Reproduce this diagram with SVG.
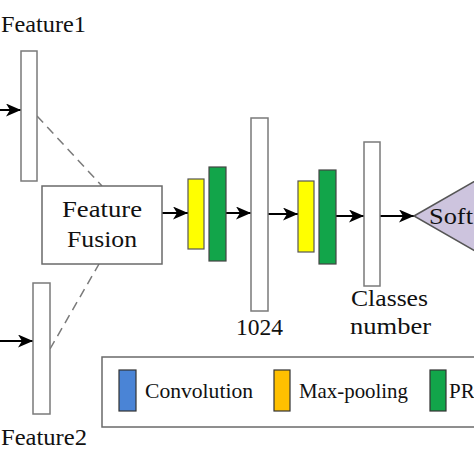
<svg xmlns="http://www.w3.org/2000/svg" width="474" height="474" viewBox="0 0 474 474">
<defs>
<marker id="ah" viewBox="0 0 15 13" refX="15" refY="6.5" markerWidth="15" markerHeight="13" markerUnits="userSpaceOnUse" orient="auto">
<path d="M0,0 L15,6.5 L0,13 L4,6.5 Z" fill="#000"/>
</marker>
<style>
.bar{fill:#fff;stroke:#7a7a7a;stroke-width:1.5}
.yel{fill:#ffff00;stroke:#555;stroke-width:1.2}
.grn{fill:#12a54a;stroke:#444;stroke-width:1.2}
.box{fill:#fff;stroke:#6a6a6a;stroke-width:1.5}
.t{font-family:"Liberation Serif","Times New Roman",serif;font-size:24px;fill:#111}
.lt{font-family:"Liberation Serif","Times New Roman",serif;font-size:21px;fill:#111}
.arr{stroke:#000;stroke-width:2;fill:none;marker-end:url(#ah)}
.dash{stroke:#7a7a7a;stroke-width:1.5;stroke-dasharray:9,6;fill:none}
</style>
</defs>
<rect width="474" height="474" fill="#fff"/>
<g id="connectors">
<line class="arr" x1="0" y1="110" x2="21" y2="110"/>
<line class="arr" x1="0" y1="341" x2="33" y2="341"/>
<line class="dash" x1="37" y1="116" x2="102" y2="186"/>
<line class="dash" x1="50" y1="349" x2="99" y2="264"/>
<line class="arr" x1="162" y1="213" x2="188" y2="213"/>
<line class="arr" x1="226" y1="213" x2="251" y2="213"/>
<line class="arr" x1="268" y1="214" x2="298" y2="214"/>
<line class="arr" x1="336" y1="216" x2="364" y2="216"/>
<line class="arr" x1="380" y1="216" x2="414" y2="216"/>
</g>
<g id="feature1">
<rect class="bar" x="21" y="51" width="16" height="130"/>
<text class="t" x="1" y="32" textLength="85" lengthAdjust="spacingAndGlyphs">Feature1</text>
</g>
<g id="feature2">
<rect class="bar" x="33" y="283" width="17" height="131"/>
<text class="t" x="1" y="445" textLength="86" lengthAdjust="spacingAndGlyphs">Feature2</text>
</g>
<g id="fusion">
<rect class="box" x="42" y="186" width="120" height="78"/>
<text class="t" x="62" y="217" textLength="80" lengthAdjust="spacingAndGlyphs">Feature</text>
<text class="t" x="67" y="247" textLength="70" lengthAdjust="spacingAndGlyphs">Fusion</text>
</g>
<g id="block1">
<rect class="yel" x="188" y="179" width="16" height="70"/>
<rect class="grn" x="209" y="167" width="17" height="94"/>
</g>
<g id="fc1024">
<rect class="bar" x="251" y="118" width="17" height="193"/>
<text class="t" x="236" y="335" textLength="47" lengthAdjust="spacingAndGlyphs">1024</text>
</g>
<g id="block2">
<rect class="yel" x="298" y="181" width="16" height="71"/>
<rect class="grn" x="319" y="170" width="17" height="94"/>
</g>
<g id="classes">
<rect class="bar" x="364" y="142" width="16" height="144"/>
<text class="t" x="351" y="306" textLength="77" lengthAdjust="spacingAndGlyphs">Classes</text>
<text class="t" x="350" y="334" textLength="81" lengthAdjust="spacingAndGlyphs">number</text>
</g>
<g id="softmax">
<path d="M414,216 L484,176 L484,256 Z" fill="#cdc4de" stroke="#555" stroke-width="1.5"/>
<text class="t" x="429" y="224" textLength="44" lengthAdjust="spacingAndGlyphs">Soft</text>
</g>
<g id="legend">
<rect class="box" x="102" y="357" width="390" height="70"/>
<rect x="119" y="370" width="17" height="41" fill="#4a84d6" stroke="#333" stroke-width="1.2"/>
<text class="lt" x="145" y="398" textLength="108" lengthAdjust="spacingAndGlyphs">Convolution</text>
<rect x="274" y="370" width="16" height="41" fill="#ffc000" stroke="#333" stroke-width="1.2"/>
<text class="lt" x="299" y="398" textLength="109" lengthAdjust="spacingAndGlyphs">Max-pooling</text>
<rect x="430" y="370" width="16" height="41" fill="#12a54a" stroke="#333" stroke-width="1.2"/>
<text class="lt" x="449" y="398">PR</text>
</g>
</svg>
